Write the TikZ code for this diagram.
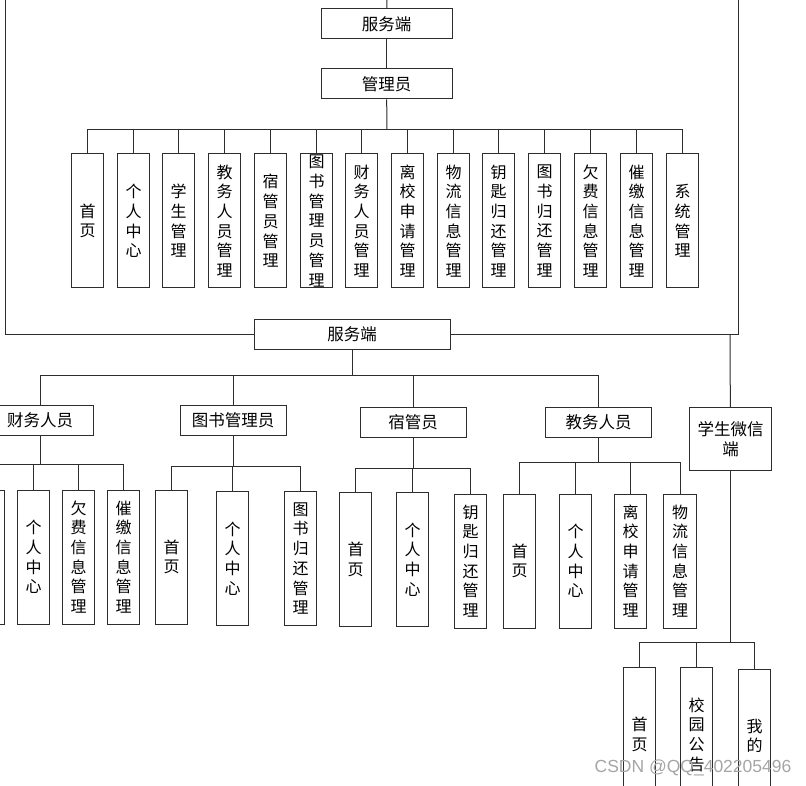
\documentclass[tikz,border=0pt]{standalone}
\usepackage{fontspec}
\newfontfamily\cjkfont{Noto Sans CJK SC}
\setsansfont{Liberation Sans}
\definecolor{wire}{RGB}{45,45,45}
\definecolor{stamp}{RGB}{165,165,165}
\tikzset{
  rolebox/.style={draw=wire, line width=1pt, minimum width=#1, minimum height=30pt, inner sep=0pt,
    font=\cjkfont\fontsize{16.5}{19.7}\selectfont},
  rolebox/.default=106pt,
  leafbox/.style={draw=wire, line width=1pt, minimum width=32.5pt, minimum height=134pt, inner sep=0pt,
    align=center, font=\cjkfont\fontsize{16}{19.7}\selectfont},
  wirepath/.style={draw=wire, line width=1pt}
}
\begin{document}
\begin{tikzpicture}[x=1pt,y=-1pt]
\useasboundingbox (0,0) rectangle (806,786);
% upper part
\coordinate (toptip) at (387,0);
\coordinate (frametl) at (5,0);
\coordinate (frametr) at (738,0);
\coordinate (framejoin) at (730,334.5);
\node (srvtop) [rolebox=131pt] at (386.5,24) {服务端};
\node (admin) [rolebox=131pt] at (386.5,84) {管理员};
\node (srvmid) [rolebox=196pt] at (352,334.5) {服务端};
\draw [wirepath] (toptip) -- (srvtop);
\draw [wirepath] (srvtop) -- (admin);
\draw [wirepath] (frametl) |- (srvmid.west);
\draw [wirepath] (srvmid.east) -| (frametr);
\coordinate (admbus) at (387,130);
\draw [wirepath] (admin) -- (admbus);
\foreach \x/\t [count=\n] in {87.5/{首\\页},133.5/{个\\人\\中\\心},178.5/{学\\生\\管\\理},224.5/{教\\务\\人\\员\\管\\理},
  270.5/{宿\\管\\员\\管\\理},316.5/{图\\书\\管\\理\\员\\管\\理},361.5/{财\\务\\人\\员\\管\\理},407.5/{离\\校\\申\\请\\管\\理},
  453.5/{物\\流\\信\\息\\管\\理},498.5/{钥\\匙\\归\\还\\管\\理},544.5/{图\\书\\归\\还\\管\\理},590.5/{欠\\费\\信\\息\\管\\理},
  636.5/{催\\缴\\信\\息\\管\\理},682.5/{系\\统\\管\\理}}
{
  \node (adm\n) [leafbox] at (\x,221) {\t};
  \draw [wirepath] (admbus) -| (adm\n.north);
}
% four roles
\coordinate (rolebus) at (352,375);
\draw [wirepath] (srvmid) -- (rolebus);
\node (fin) [rolebox] at (40,420) {财务人员};
\node (lib) [rolebox] at (233,420) {图书管理员};
\node (dorm) [rolebox] at (413,422) {宿管员};
\node (edu) [rolebox] at (598.5,422) {教务人员};
\foreach \r in {fin,lib,dorm,edu}
  \draw [wirepath] (rolebus) -| (\r.north);
% finance
\coordinate (finbus) at (40,464.5);
\draw [wirepath] (fin) -- (finbus);
\node (fin0) [leafbox] at (-11.5,557) {};
\draw [wirepath] (finbus) -| (fin0.north);
\foreach \x/\t [count=\n] in {33.5/{个\\人\\中\\心},78.5/{欠\\费\\信\\息\\管\\理},123.5/{催\\缴\\信\\息\\管\\理}}
{
  \node (fin\n) [leafbox] at (\x,557) {\t};
  \draw [wirepath] (finbus) -| (fin\n.north);
}
% library
\coordinate (libbus) at (233,466);
\draw [wirepath] (lib) -- (libbus);
\foreach \x/\y/\t [count=\n] in {171.5/557/{首\\页},232.5/558.5/{个\\人\\中\\心},300.5/558.5/{图\\书\\归\\还\\管\\理}}
{
  \node (lib\n) [leafbox] at (\x,\y) {\t};
  \draw [wirepath] (libbus) -| (lib\n.north);
}
% dorm
\coordinate (dormbus) at (413,468);
\draw [wirepath] (dorm) -- (dormbus);
\foreach \x/\y/\t [count=\n] in {355.5/559.5/{首\\页},412.5/559.5/{个\\人\\中\\心},470.5/561/{钥\\匙\\归\\还\\管\\理}}
{
  \node (dorm\n) [leafbox] at (\x,\y) {\t};
  \draw [wirepath] (dormbus) -| (dorm\n.north);
}
% teaching
\coordinate (edubus) at (598.5,462.5);
\draw [wirepath] (edu) -- (edubus);
\foreach \x/\t [count=\n] in {519.5/{首\\页},575.5/{个\\人\\中\\心},630.5/{离\\校\\申\\请\\管\\理},680/{物\\流\\信\\息\\管\\理}}
{
  \node (edu\n) [leafbox] at (\x,561) {\t};
  \draw [wirepath] (edubus) -| (edu\n.north);
}
% student side
\node (stu) [rolebox=81.5pt, minimum height=63pt, align=center] at (730.5,439) {学生微信\\端};
\draw [wirepath] (framejoin) -- (stu);
\coordinate (stubus) at (730.5,642.5);
\draw [wirepath] (stu) -- (stubus);
\foreach \x/\y/\t [count=\n] in {639.5/734.5/{首\\页},696.5/734.5/{校\\园\\公\\告},754.5/736/{我\\的}}
{
  \node (stu\n) [leafbox] at (\x,\y) {\t};
  \draw [wirepath] (stubus) -| (stu\n.north);
}
\node (stampmark) [text=stamp, font=\sffamily\fontsize{17.5}{20}\selectfont, inner sep=0pt] at (693,768) {CSDN @QQ\_402205496};
\end{tikzpicture}
\end{document}
